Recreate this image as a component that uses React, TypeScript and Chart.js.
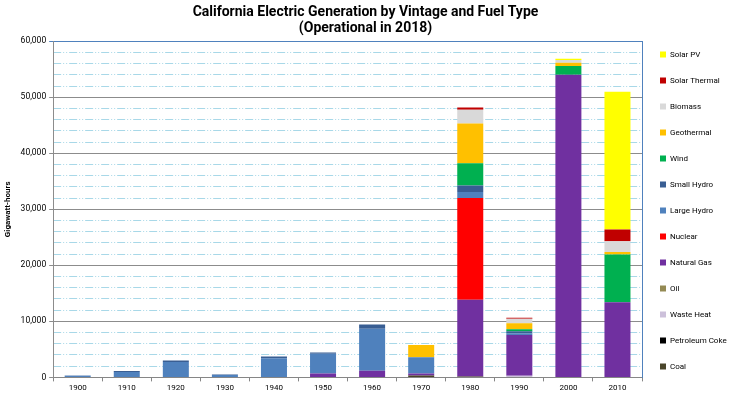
import React, { useEffect, useRef } from 'react';
import { Chart, registerables } from 'chart.js';
Chart.register(...registerables);

const categories = ['1900', '1910', '1920', '1930', '1940', '1950', '1960', '1970', '1980', '1990', '2000', '2010'];

// stack order bottom -> top
const coal          = [0, 0, 0, 0, 0, 0, 0, 350, 150, 0, 0, 0];
const petroleumCoke = [0, 0, 0, 0, 0, 0, 0, 0, 0, 0, 0, 0];
const wasteHeat     = [0, 0, 0, 0, 0, 0, 0, 0, 0, 300, 0, 0];
const oil           = [0, 0, 0, 0, 0, 0, 0, 0, 0, 0, 0, 0];
const naturalGas    = [0, 0, 0, 0, 0, 700, 1200, 350, 13700, 7250, 54000, 13400];
const nuclear       = [0, 0, 0, 0, 0, 0, 0, 0, 18150, 0, 0, 0];
const largeHydro    = [300, 950, 2750, 450, 3430, 3500, 7500, 2900, 1070, 350, 0, 0];
const smallHydro    = [50, 170, 250, 80, 300, 250, 760, 0, 1190, 330, 0, 0];
const wind          = [0, 0, 0, 0, 0, 0, 0, 0, 3970, 350, 1570, 8550];
const geothermal    = [0, 0, 0, 0, 0, 0, 0, 2200, 7100, 1070, 590, 420];
const biomass       = [0, 0, 0, 0, 0, 0, 0, 0, 2420, 800, 470, 1950];
const solarThermal  = [0, 0, 0, 0, 0, 0, 0, 0, 420, 200, 0, 2070];
const solarPV       = [0, 0, 0, 0, 0, 0, 0, 0, 0, 0, 240, 24610];

const seriesNames = ['Coal', 'Petroleum Coke', 'Waste Heat', 'Oil', 'Natural Gas', 'Nuclear', 'Large Hydro', 'Small Hydro', 'Wind', 'Geothermal', 'Biomass', 'Solar Thermal', 'Solar PV'];
const seriesValues = [coal, petroleumCoke, wasteHeat, oil, naturalGas, nuclear, largeHydro, smallHydro, wind, geothermal, biomass, solarThermal, solarPV];
const seriesColors = ['#4A452A', '#000000', '#CCC0DA', '#948A54', '#7030A0', '#FF0000', '#4F81BD', '#395E93', '#00B050', '#FFC000', '#D9D9D9', '#C00000', '#FFFF00'];

const titleLines = ['California Electric Generation by Vintage and Fuel Type', '(Operational in 2018)'];
const yTitle = 'Gigawatt-hours';

const FONT = 'Roboto';

export default function App() {
  const ref = useRef<HTMLCanvasElement>(null);
  useEffect(() => {
    const chart = new Chart(ref.current!, {
      type: 'bar',
      data: {
        labels: categories,
        datasets: seriesNames.map((name, i) => ({
          label: name,
          data: seriesValues[i],
          backgroundColor: seriesColors[i],
          borderWidth: 0,
          barPercentage: 1,
          categoryPercentage: 0.53,
        })),
      },
      options: {
        responsive: false,
        animation: false,
        layout: { padding: { left: 1, right: 0, top: 0, bottom: 2 } },
        plugins: {
          title: {
            display: true,
            text: titleLines,
            color: '#000',
            font: { family: FONT, size: 14, weight: 'bold', lineHeight: 1.15 },
            padding: { top: 4, bottom: 5 },
          },
          legend: {
            position: 'right',
            reverse: true,
            maxWidth: 88,
            title: { display: true, text: ' ', font: { size: 1, lineHeight: 1 }, padding: 12.5 },
            labels: {
              boxWidth: 6,
              boxHeight: 6,
              padding: 18,
              color: '#000',
              font: { family: FONT, size: 8 },
            },
          },
          tooltip: { enabled: false },
        },
        scales: {
          x: {
            stacked: true,
            grid: { offset: true, drawOnChartArea: false, drawTicks: true, tickLength: 4, color: '#868686' },
            border: { color: '#868686' },
            ticks: { color: '#000', font: { family: FONT, size: 8 }, maxRotation: 0, padding: 2 },
          },
          y: {
            stacked: true,
            min: 0,
            max: 60000,
            ticks: {
              stepSize: 10000,
              color: '#000',
              font: { family: FONT, size: 8.5 },
              padding: 3,
              callback: (v: any) => Number(v).toLocaleString('en-US'),
            },
            grid: {
              color: (ctx: any) => (ctx.tick && ctx.tick.value === 60000 ? '#4F81BD' : '#8C8C8C'),
              tickLength: 4,
            },
            border: { color: '#8C8C8C' },
            title: { display: true, text: yTitle, color: '#000', font: { family: FONT, size: 8, weight: 'bold' }, padding: { top: 2, bottom: 5 } },
          },
          y2: {
            position: 'right',
            min: 0,
            max: 60000,
            ticks: { display: false, stepSize: 2000 },
            grid: {
              drawTicks: false,
              color: (ctx: any) => (ctx.tick && ctx.tick.value % 10000 === 0 ? 'rgba(0,0,0,0)' : '#A8D8E8'),
            },
            border: {
              color: '#4F81BD',
              dash: (ctx: any) => (ctx.type === 'tick' ? [8, 2, 1, 2, 1, 2] : []),
            },
          },
        },
      },
    } as any);
    return () => chart.destroy();
  }, []);
  return (
    <div style={{ position: 'absolute', left: 0, top: 0, width: 730, height: 397, background: '#fff' }}>
      <canvas ref={ref} width={730} height={397} />
    </div>
  );
}
